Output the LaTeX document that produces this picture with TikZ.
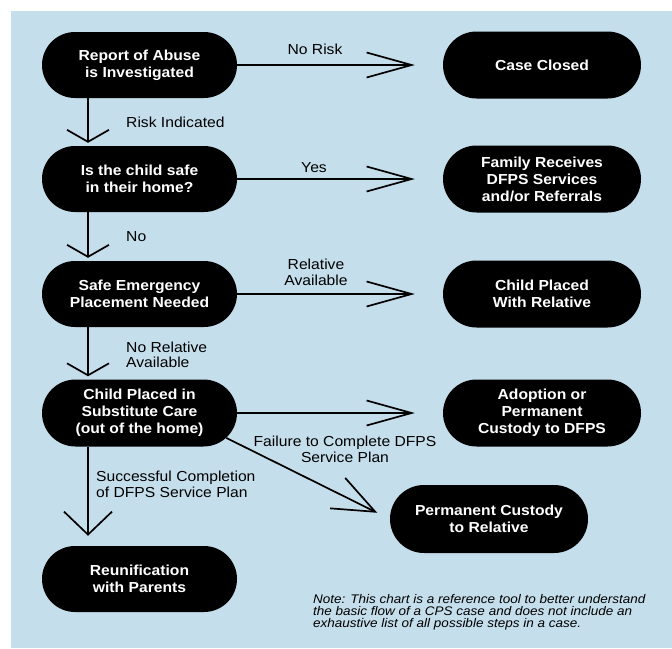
\documentclass[tikz,border=0pt]{standalone}
\usepackage{fontspec}
\setmainfont{Liberation Sans}[FakeStretch=1.08]
\usetikzlibrary{arrows.meta,shapes.misc}
\definecolor{bgblue}{RGB}{197,222,235}
\begin{document}
\begin{tikzpicture}[x=1pt,y=-1pt,
  box/.style={rounded rectangle, fill=black, text=white,
    font=\fontsize{14.5}{17}\selectfont\bfseries, align=center,
    minimum width=195pt, minimum height=66pt, inner sep=0pt},
  rbox/.style={box, minimum width=198pt, minimum height=67pt},
  lbl/.style={font=\fontsize{14.5}{15.5}\selectfont, align=center, inner sep=0pt},
  conn/.style={line width=1.7pt},
  hA/.style={-{Straight Barb[length=45pt,width=25pt]}},
  vA/.style={-{Straight Barb[length=12pt,width=42pt]}},
  bA/.style={-{Straight Barb[length=23pt,width=48pt]}},
  dA/.style={-{Straight Barb[length=42pt,width=34pt]}}]
\useasboundingbox (0,0) rectangle (672,648);
\fill[bgblue] (11,11) rectangle (672,648);
% nodes
\node[box] (n1) at (139.5,65) {Report of Abuse\\is Investigated};
\node[rbox] (n2) at (542,65) {Case Closed};
\node[box] (n3) at (139.5,179) {Is the child safe\\in their home?};
\node[rbox] (n4) at (542,179) {Family Receives\\DFPS Services\\and/or Referrals};
\node[box] (n5) at (139.5,294) {Safe Emergency\\Placement Needed};
\node[rbox] (n6) at (542,294) {Child Placed\\With Relative};
\node[box,minimum height=67pt] (n7) at (139.5,413) {Child Placed in\\Substitute Care\\(out of the home)};
\node[rbox] (n8) at (542,413) {Adoption or\\Permanent\\Custody to DFPS};
\node[rbox,minimum height=68pt] (n9) at (489,519) {Permanent Custody\\to Relative};
\node[box] (n10) at (139.5,579) {Reunification\\with Parents};
% connectors
\draw[conn,hA,shorten >=28pt] (n1) -- (n2);
\draw[conn,hA,shorten >=28pt] (n3) -- (n4);
\draw[conn,hA,shorten >=28pt] (n5) -- (n6);
\draw[conn,hA,shorten >=28pt] (n7) -- (n8);
\draw[conn,vA,shorten >=3pt] ([xshift=-51.5pt]n1.south) -- ([xshift=-51.5pt]n3.north);
\draw[conn,vA,shorten >=3pt] ([xshift=-51.5pt]n3.south) -- ([xshift=-51.5pt]n5.north);
\draw[conn,vA,shorten >=3pt] ([xshift=-51.5pt]n5.south) -- ([xshift=-51.5pt]n7.north);
\draw[conn,bA,shorten >=10pt] ([xshift=-51.5pt]n7.south) -- ([xshift=-51.5pt]n10.north);
\draw[conn,dA,shorten >=14pt] (n7.-16) -- (n9.west);
% labels
\node[lbl] (l1) at (315,49) {No Risk};
\node[lbl] (l2) at (314,168) {Yes};
\node[lbl] (l3) at (316,272.5) {Relative\\Available};
\node[lbl,anchor=west] (l4) at (126,122) {Risk Indicated};
\node[lbl,anchor=west] (l5) at (126,237) {No};
\node[lbl,anchor=west,align=left] (l6) at (126,355) {No Relative\\Available};
\node[lbl] (l7) at (345,449.5) {Failure to Complete DFPS\\Service Plan};
\node[lbl,anchor=west,align=left] (l8) at (96,484.5) {Successful Completion\\of DFPS Service Plan};
\node[anchor=west,align=left,inner sep=0pt,font=\fontsize{12.5}{12}\selectfont\itshape] (note) at (313,612)
  {Note: This chart is a reference tool to better understand\\the basic flow of a CPS case and does not include an\\exhaustive list of all possible steps in a case.};
\end{tikzpicture}
\end{document}
